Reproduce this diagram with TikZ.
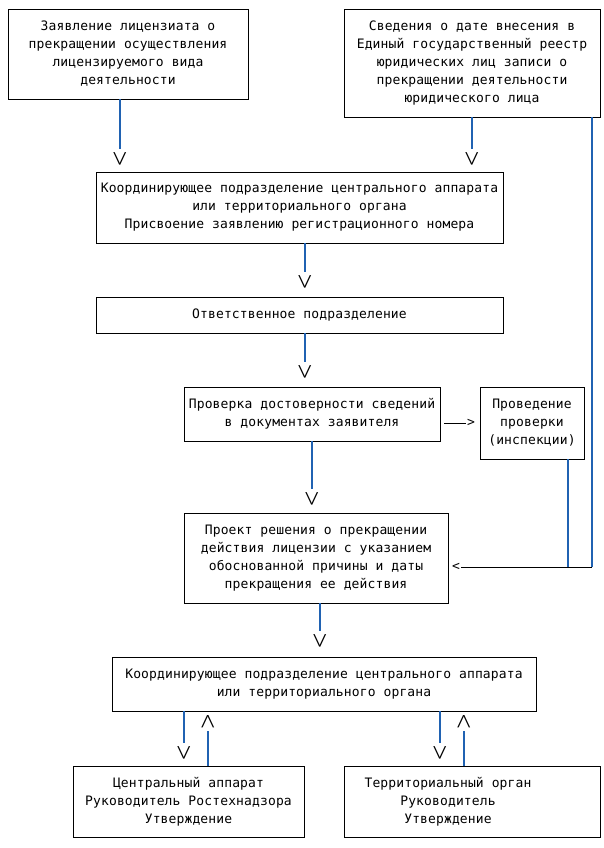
\documentclass[tikz,border=0pt]{standalone}
\usepackage{fontspec}
\setmonofont{DejaVu Sans Mono}[LetterSpace=1.0]
\definecolor{linkblue}{RGB}{32,98,178}
\newcommand\tfont{\fontsize{13}{18}\selectfont\ttfamily}
\newcommand\mfont{\fontsize{15}{18}\selectfont\ttfamily}
\newcommand\dnmark{\textbackslash\kern-3.4pt/}
\newcommand\upmark{/\kern-3.4pt\textbackslash}
\begin{document}
\begin{tikzpicture}[x=1pt,y=-1pt,
  box/.style={draw=black, line width=0.9pt, inner sep=0pt, align=center, font=\tfont},
  txt/.style={inner sep=0pt, align=center, font=\tfont},
  conn/.style={draw=linkblue, line width=1.2pt},
  hline/.style={draw=black, line width=0.9pt},
  arrmark/.style={inner sep=0pt, font=\mfont},
  chmark/.style={inner sep=0pt, font=\tfont},
]
\useasboundingbox (0,0) rectangle (603,848);
\fill[white] (0,0) rectangle (603,848);

\node[box, minimum width=240pt, minimum height=90pt] (b1) at (128,54)
  {Заявление лицензиата о\\прекращении осуществления\\лицензируемого вида\\деятельности};
\node[box, minimum width=256pt, minimum height=108pt] (b2) at (472,63)
  {Сведения о дате внесения в\\Единый государственный реестр\\юридических лиц записи о\\прекращении деятельности\\юридического лица};
\node[box, minimum width=407pt, minimum height=71pt] (b3) at (299.5,207.5)
  {Координирующее подразделение центрального аппарата\\или территориального органа\\Присвоение заявлению регистрационного номера};
\node[box, minimum width=407pt, minimum height=36pt] (b4) at (299.5,315)
  {Ответственное подразделение};
\node[box, minimum width=256pt, minimum height=54pt] (b5) at (312,414)
  {Проверка достоверности сведений\\в документах заявителя};
\node[box, minimum width=104pt, minimum height=72pt] (b6) at (532,423)
  {Проведение\\проверки\\(инспекции)};
\node[box, minimum width=264pt, minimum height=90pt] (b7) at (316,558)
  {Проект решения о прекращении\\действия лицензии с указанием\\обоснованной причины и даты\\прекращения ее действия};
\node[box, minimum width=424pt, minimum height=54pt] (b8) at (324,684)
  {Координирующее подразделение центрального аппарата\\или территориального органа};
\node[box, minimum width=231pt, minimum height=71pt] (b9) at (188.5,801.5)
  {Центральный аппарат\\Руководитель Ростехнадзора\\Утверждение};
\node[box, minimum width=256pt, minimum height=71pt] (b10) at (472,801.5) {};
\node[txt] (t10) at ([xshift=-24pt]b10.center)
  {Территориальный орган\\Руководитель\\Утверждение};

% arrow marks
\node[arrmark] (v1) at (120,159) {\dnmark};
\node[arrmark] (v2) at (472,159) {\dnmark};
\node[arrmark] (v3) at (305,282) {\dnmark};
\node[arrmark] (v4) at (305,372) {\dnmark};
\node[arrmark] (v5) at (312,499) {\dnmark};
\node[arrmark] (v6) at (320,641) {\dnmark};
\node[arrmark] (v7) at (184,753) {\dnmark};
\node[arrmark] (v8) at (440,753) {\dnmark};
\node[arrmark] (u1) at (208,722) {\upmark};
\node[arrmark] (u2) at (464,722) {\upmark};
\node[chmark] (gt) at (471,423) {>};
\node[chmark] (lt) at (456,567) {<};
\coordinate (cr) at (592,567);
\coordinate (cj) at (568,567);

% connectors
\draw[conn, shorten >=4pt] (b1.south -| v1) -- (v1);
\draw[conn, shorten >=4pt] (b2.south -| v2) -- (v2);
\draw[conn, shorten >=4pt] (b3.south -| v3) -- (v3);
\draw[conn, shorten >=4pt] (b4.south -| v4) -- (v4);
\draw[conn, shorten >=4pt] (b5.south -| v5) -- (v5);
\draw[conn, shorten >=4pt] (b7.south -| v6) -- (v6);
\draw[conn, shorten >=4pt] (b8.south -| v7) -- (v7);
\draw[conn, shorten >=4pt] (b8.south -| v8) -- (v8);
\draw[conn, shorten >=3pt] (b9.north -| u1) -- (u1);
\draw[conn, shorten >=3pt] (b10.north -| u2) -- (u2);
\draw[hline, shorten >=1pt] ([xshift=4pt]b5.east |- gt) -- (gt);
\draw[conn] (b2.south -| cr) -- (cr);
\draw[conn] (b6.south -| cj) -- (cj);
\draw[hline, shorten >=1pt] (cr) -- (lt);
\end{tikzpicture}
\end{document}
